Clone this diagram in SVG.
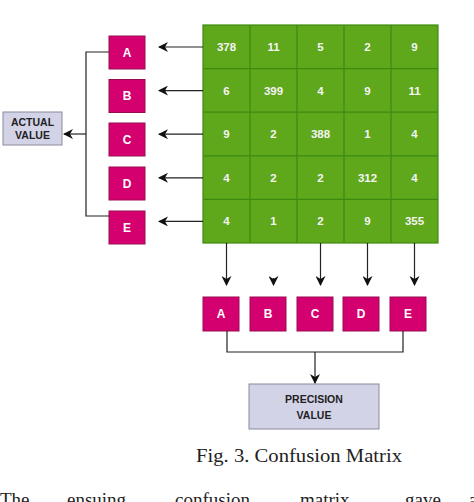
<svg xmlns="http://www.w3.org/2000/svg" width="474" height="502" viewBox="0 0 474 502">
<defs>
<marker id="ah" viewBox="0 0 10 10" refX="9" refY="5" markerWidth="10" markerHeight="10" markerUnits="userSpaceOnUse" orient="auto">
<path d="M0,0 L10,5 L0,10 L3,5 Z" fill="#111"/>
</marker>
</defs>
<style>
.cell{fill:#5fa71b;stroke:#3d8a12;stroke-width:1.2}
.num{font-family:"Liberation Sans",Arial,sans-serif;font-weight:bold;font-size:11.5px;fill:#f4f4f4;text-anchor:middle}
.pk{fill:#d4006f;stroke:#9a0a52;stroke-width:1}
.pl{font-family:"Liberation Sans",Arial,sans-serif;font-weight:bold;font-size:12px;fill:#ffffff;text-anchor:middle}
.lv{fill:#d3d3e8;stroke:#8a8a9a;stroke-width:1}
.lt{font-family:"Liberation Sans",Arial,sans-serif;font-weight:bold;font-size:10.5px;fill:#222;text-anchor:middle}
.ln{fill:none;stroke:#222;stroke-width:1.2}
.cap{font-family:"Liberation Serif","Times New Roman",serif;font-size:19px;fill:#222}
</style>
<rect width="474" height="502" fill="#ffffff"/>

<g id="matrix">
<rect class="cell" x="203" y="25" width="235" height="218"/>
<path d="M250,25V243M297,25V243M344,25V243M391,25V243M203,68.6H438M203,112.2H438M203,155.8H438M203,199.4H438" stroke="#3d8a12" stroke-width="1.2"/>
<g class="num">
<text x="226.5" y="51">378</text><text x="273.5" y="51">11</text><text x="320.5" y="51">5</text><text x="367.5" y="51">2</text><text x="414.5" y="51">9</text>
<text x="226.5" y="94.6">6</text><text x="273.5" y="94.6">399</text><text x="320.5" y="94.6">4</text><text x="367.5" y="94.6">9</text><text x="414.5" y="94.6">11</text>
<text x="226.5" y="138.2">9</text><text x="273.5" y="138.2">2</text><text x="320.5" y="138.2">388</text><text x="367.5" y="138.2">1</text><text x="414.5" y="138.2">4</text>
<text x="226.5" y="181.8">4</text><text x="273.5" y="181.8">2</text><text x="320.5" y="181.8">2</text><text x="367.5" y="181.8">312</text><text x="414.5" y="181.8">4</text>
<text x="226.5" y="225.4">4</text><text x="273.5" y="225.4">1</text><text x="320.5" y="225.4">2</text><text x="367.5" y="225.4">9</text><text x="414.5" y="225.4">355</text>
</g>
</g>

<g id="row-A"><rect class="pk" x="109" y="36" width="36" height="33"/><text class="pl" x="127" y="56.5">A</text></g>
<g id="row-B"><rect class="pk" x="109" y="79.5" width="36" height="33"/><text class="pl" x="127" y="100">B</text></g>
<g id="row-C"><rect class="pk" x="109" y="123" width="36" height="33"/><text class="pl" x="127" y="143.5">C</text></g>
<g id="row-D"><rect class="pk" x="109" y="167" width="36" height="33"/><text class="pl" x="127" y="187.5">D</text></g>
<g id="row-E"><rect class="pk" x="109" y="211" width="36" height="33"/><text class="pl" x="127" y="231.5">E</text></g>

<g id="actual-value"><rect class="lv" x="3" y="112" width="59" height="33"/><text class="lt" x="32.5" y="126">ACTUAL</text><text class="lt" x="32.5" y="139">VALUE</text></g>

<g id="col-A"><rect class="pk" x="203" y="297" width="36" height="34"/><text class="pl" x="221" y="318">A</text></g>
<g id="col-B"><rect class="pk" x="250" y="297" width="36" height="34"/><text class="pl" x="268" y="318">B</text></g>
<g id="col-C"><rect class="pk" x="297" y="297" width="36" height="34"/><text class="pl" x="315" y="318">C</text></g>
<g id="col-D"><rect class="pk" x="343" y="297" width="36" height="34"/><text class="pl" x="361" y="318">D</text></g>
<g id="col-E"><rect class="pk" x="390" y="297" width="36" height="34"/><text class="pl" x="408" y="318">E</text></g>

<g id="precision-value"><rect class="lv" x="249" y="384" width="130" height="45"/><text class="lt" x="314" y="403" font-size="11.5">PRECISION</text><text class="lt" x="314" y="419" font-size="11.5">VALUE</text></g>

<g id="connectors">
<path class="ln" d="M203,47H159" marker-end="url(#ah)"/>
<path class="ln" d="M203,90.6H159" marker-end="url(#ah)"/>
<path class="ln" d="M203,134.2H159" marker-end="url(#ah)"/>
<path class="ln" d="M203,177.8H159" marker-end="url(#ah)"/>
<path class="ln" d="M203,221.4H159" marker-end="url(#ah)"/>
<path class="ln" d="M109,52H86V216H109"/>
<path class="ln" d="M86,134H64" marker-end="url(#ah)"/>
<path class="ln" d="M226.5,243V285" marker-end="url(#ah)"/>
<path class="ln" d="M273.5,278V285" stroke="none" marker-end="url(#ah)"/>
<path class="ln" d="M320.5,243V285" marker-end="url(#ah)"/>
<path class="ln" d="M367.5,243V285" marker-end="url(#ah)"/>
<path class="ln" d="M414.5,243V285" stroke="#d8d8d8" marker-end="url(#ah)"/>
<path class="ln" d="M227,331V352H403V331"/>
<path class="ln" d="M315,352V383" marker-end="url(#ah)"/>
</g>

<text class="cap" x="196" y="462" textLength="206" lengthAdjust="spacingAndGlyphs">Fig. 3. Confusion Matrix</text>
<g class="cap" font-size="21">
<text x="0" y="506">The</text><text x="67" y="506">ensuing</text><text x="175" y="506">confusion</text><text x="300" y="506">matrix</text><text x="405" y="506">gave</text><text x="469" y="506">a</text>
</g>
</svg>
